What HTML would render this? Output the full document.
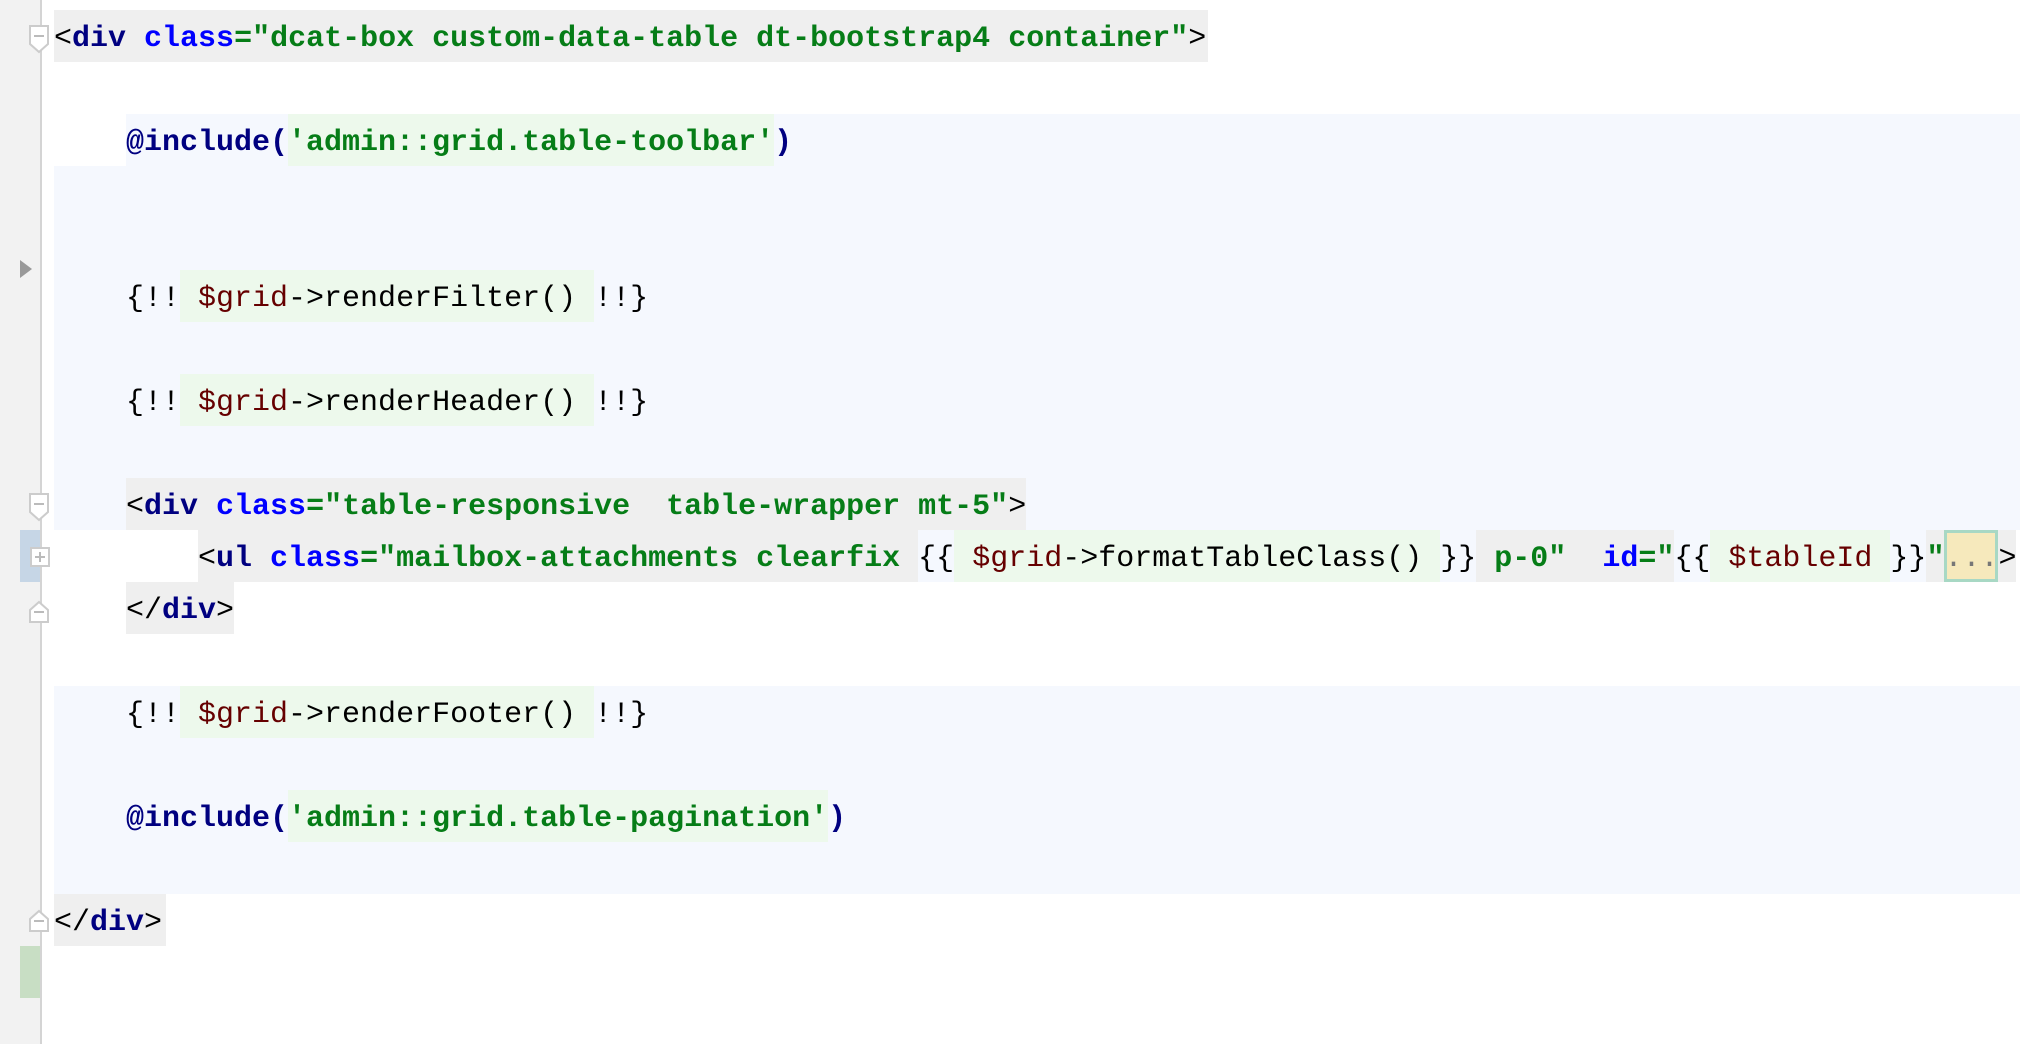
<!DOCTYPE html>
<html><head><meta charset="utf-8"><style>
html,body{margin:0;padding:0;width:2020px;height:1044px;overflow:hidden;background:#fff;}
.g{position:absolute;left:0;top:0;width:40px;height:1044px;background:#f2f2f2;}
.gl{position:absolute;left:40px;top:0;width:2px;height:1044px;background:#d4d4d4;}
.b{position:absolute;background:#f5f8fe;}
.ln{position:absolute;height:52px;line-height:58px;font-family:"Liberation Mono",monospace;font-size:30px;white-space:pre;color:#000;overflow:hidden}
.ln span{display:inline-block;height:52px;vertical-align:top}
.ln span span{display:inline}
.gr{background:#efefef}
.st{background:#edf9ec}
.bl{background:#f5f8fe}
.t{color:#000080;font-weight:bold}
.a{color:#0000ff;font-weight:bold}
.s{color:#067d17;font-weight:bold}
.v{color:#660000}
</style></head><body>
<div class="g"></div>
<div class="b" style="left:126px;top:114px;width:1894px;height:52px"></div>
<div class="b" style="left:54px;top:166px;width:1966px;height:364px"></div>
<div class="b" style="left:54px;top:686px;width:1966px;height:208px"></div>
<div style="position:absolute;left:20px;top:530px;width:20px;height:52px;background:#c6d6e6"></div>
<div style="position:absolute;left:20px;top:946px;width:20px;height:52px;background:#c8dec4"></div>
<div class="gl"></div>
<svg style="position:absolute;left:0;top:0" width="60" height="1044">
<path d="M30 26 h18 v18 l-9 8 l-9 -8 z" fill="#fff" stroke="#ccc" stroke-width="2"/><line x1="34" y1="36" x2="44" y2="36" stroke="#bbb" stroke-width="2"/>
<path d="M20 260 l12 9 l-12 9 z" fill="#999"/>
<path d="M30 494 h18 v18 l-9 8 l-9 -8 z" fill="#fff" stroke="#ccc" stroke-width="2"/><line x1="34" y1="504" x2="44" y2="504" stroke="#bbb" stroke-width="2"/>
<rect x="31" y="548" width="18" height="18" fill="#fff" stroke="#ccc" stroke-width="2"/><line x1="35" y1="557" x2="45" y2="557" stroke="#bbb" stroke-width="2"/><line x1="40" y1="552" x2="40" y2="562" stroke="#bbb" stroke-width="2"/>
<path d="M30 622 v-12 l9 -8 l9 8 v12 z" fill="#fff" stroke="#ccc" stroke-width="2"/><line x1="34" y1="612" x2="44" y2="612" stroke="#bbb" stroke-width="2"/>
<path d="M30 931 v-12 l9 -8 l9 8 v12 z" fill="#fff" stroke="#ccc" stroke-width="2"/><line x1="34" y1="921" x2="44" y2="921" stroke="#bbb" stroke-width="2"/>
</svg>
<div class="ln gr" style="left:54px;top:10px;padding-right:2px">&lt;<span class="t">div</span> <span class="a">class</span><span class="s">="dcat-box custom-data-table dt-bootstrap4 container"</span>&gt;</div>
<div class="ln" style="left:126px;top:114px"><span class="t">@include(</span><span class="st s">'admin::grid.table-toolbar'</span><span class="t">)</span></div>
<div class="ln" style="left:126px;top:270px">{!!<span class="st"> <span class="v">$grid</span>-&gt;renderFilter() </span>!!}</div>
<div class="ln" style="left:126px;top:374px">{!!<span class="st"> <span class="v">$grid</span>-&gt;renderHeader() </span>!!}</div>
<div class="ln gr" style="left:126px;top:478px">&lt;<span class="t">div</span> <span class="a">class</span><span class="s">="table-responsive  table-wrapper mt-5"</span>&gt;</div>
<div style="position:absolute;left:54px;top:530px;width:1966px;height:52px;background:#fff"></div>
<div class="ln" style="left:198px;top:530px"><span class="gr">&lt;<span class="t">ul</span> <span class="a">class</span><span class="s">="mailbox-attachments clearfix </span></span><span class="bl">{{</span><span class="st"> <span class="v">$grid</span>-&gt;formatTableClass() </span><span class="bl">}}</span><span class="gr"><span class="s"> p-0"</span>  <span class="a">id</span><span class="s">="</span></span><span class="bl">{{</span><span class="st"> <span class="v">$tableId</span> </span><span class="bl">}}</span><span class="gr"><span class="s">"</span></span><span style="background:#f6e9bc;color:#777;box-shadow:inset 0 0 0 3px #a8d8c4">...</span><span class="gr">&gt;</span></div>
<div class="ln gr" style="left:126px;top:582px">&lt;/<span class="t">div</span>&gt;</div>
<div class="ln" style="left:126px;top:686px">{!!<span class="st"> <span class="v">$grid</span>-&gt;renderFooter() </span>!!}</div>
<div class="ln" style="left:126px;top:790px"><span class="t">@include(</span><span class="st s">'admin::grid.table-pagination'</span><span class="t">)</span></div>
<div class="ln gr" style="left:54px;top:894px;padding-right:4px">&lt;/<span class="t">div</span>&gt;</div>
</body></html>
